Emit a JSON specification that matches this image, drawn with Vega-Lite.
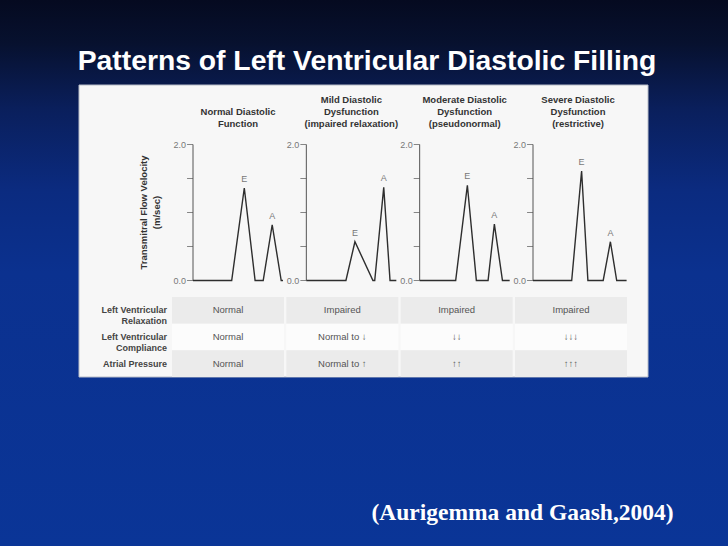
{
  "$schema": "https://vega.github.io/schema/vega-lite/v6.json",
  "width": 728,
  "height": 546,
  "autosize": {"type": "none"},
  "padding": 0,
  "background": "#060c26",
  "title": {
    "text": "Patterns of Left Ventricular Diastolic Filling",
    "orient": "top",
    "anchor": "middle",
    "frame": "group",
    "offset": -98,
    "baseline": "alphabetic",
    "dx": 3,
    "font": "Liberation Sans",
    "fontSize": 28.3,
    "fontWeight": "bold",
    "color": "#ffffff"
  },
  "datasets": {
    "frame": [{"part": "figure"}],
    "panels": [
      {"panel": "Normal"},
      {"panel": "Mild"},
      {"panel": "Moderate"},
      {"panel": "Severe"}
    ],
    "yticks": [
      {"panel": "Normal", "v": 0}, {"panel": "Normal", "v": 0.5}, {"panel": "Normal", "v": 1}, {"panel": "Normal", "v": 1.5}, {"panel": "Normal", "v": 2},
      {"panel": "Mild", "v": 0}, {"panel": "Mild", "v": 0.5}, {"panel": "Mild", "v": 1}, {"panel": "Mild", "v": 1.5}, {"panel": "Mild", "v": 2},
      {"panel": "Moderate", "v": 0}, {"panel": "Moderate", "v": 0.5}, {"panel": "Moderate", "v": 1}, {"panel": "Moderate", "v": 1.5}, {"panel": "Moderate", "v": 2},
      {"panel": "Severe", "v": 0}, {"panel": "Severe", "v": 0.5}, {"panel": "Severe", "v": 1}, {"panel": "Severe", "v": 1.5}, {"panel": "Severe", "v": 2}
    ],
    "flow": [
      {"panel": "Normal", "t": 0, "v": 0, "wave": "", "phase": "rest"},
      {"panel": "Normal", "t": 0.43, "v": 0, "wave": "E", "phase": "onset"},
      {"panel": "Normal", "t": 0.57, "v": 1.36, "wave": "E", "phase": "peak"},
      {"panel": "Normal", "t": 0.69, "v": 0, "wave": "E", "phase": "end"},
      {"panel": "Normal", "t": 0.78, "v": 0, "wave": "A", "phase": "onset"},
      {"panel": "Normal", "t": 0.88, "v": 0.82, "wave": "A", "phase": "peak"},
      {"panel": "Normal", "t": 0.98, "v": 0, "wave": "A", "phase": "end"},
      {"panel": "Normal", "t": 1, "v": 0, "wave": "", "phase": "rest"},
      {"panel": "Mild", "t": 0, "v": 0, "wave": "", "phase": "rest"},
      {"panel": "Mild", "t": 0.44, "v": 0, "wave": "E", "phase": "onset"},
      {"panel": "Mild", "t": 0.54, "v": 0.57, "wave": "E", "phase": "peak"},
      {"panel": "Mild", "t": 0.74, "v": 0, "wave": "E", "phase": "end"},
      {"panel": "Mild", "t": 0.76, "v": 0, "wave": "A", "phase": "onset"},
      {"panel": "Mild", "t": 0.86, "v": 1.37, "wave": "A", "phase": "peak"},
      {"panel": "Mild", "t": 0.93, "v": 0, "wave": "A", "phase": "end"},
      {"panel": "Mild", "t": 1, "v": 0, "wave": "", "phase": "rest"},
      {"panel": "Moderate", "t": 0, "v": 0, "wave": "", "phase": "rest"},
      {"panel": "Moderate", "t": 0.4, "v": 0, "wave": "E", "phase": "onset"},
      {"panel": "Moderate", "t": 0.53, "v": 1.4, "wave": "E", "phase": "peak"},
      {"panel": "Moderate", "t": 0.63, "v": 0, "wave": "E", "phase": "end"},
      {"panel": "Moderate", "t": 0.76, "v": 0, "wave": "A", "phase": "onset"},
      {"panel": "Moderate", "t": 0.83, "v": 0.83, "wave": "A", "phase": "peak"},
      {"panel": "Moderate", "t": 0.92, "v": 0, "wave": "A", "phase": "end"},
      {"panel": "Moderate", "t": 1, "v": 0, "wave": "", "phase": "rest"},
      {"panel": "Severe", "t": 0, "v": 0, "wave": "", "phase": "rest"},
      {"panel": "Severe", "t": 0.43, "v": 0, "wave": "E", "phase": "onset"},
      {"panel": "Severe", "t": 0.54, "v": 1.61, "wave": "E", "phase": "peak"},
      {"panel": "Severe", "t": 0.61, "v": 0, "wave": "E", "phase": "end"},
      {"panel": "Severe", "t": 0.78, "v": 0, "wave": "A", "phase": "onset"},
      {"panel": "Severe", "t": 0.86, "v": 0.57, "wave": "A", "phase": "peak"},
      {"panel": "Severe", "t": 0.93, "v": 0, "wave": "A", "phase": "end"},
      {"panel": "Severe", "t": 1.04, "v": 0, "wave": "", "phase": "rest"}
    ],
    "table": [
      {"row": "Relaxation", "col": "Normal", "text": "Normal"},
      {"row": "Relaxation", "col": "Mild", "text": "Impaired"},
      {"row": "Relaxation", "col": "Moderate", "text": "Impaired"},
      {"row": "Relaxation", "col": "Severe", "text": "Impaired"},
      {"row": "Compliance", "col": "Normal", "text": "Normal"},
      {"row": "Compliance", "col": "Mild", "text": "Normal to ↓"},
      {"row": "Compliance", "col": "Moderate", "text": "↓↓"},
      {"row": "Compliance", "col": "Severe", "text": "↓↓↓"},
      {"row": "Pressure", "col": "Normal", "text": "Normal"},
      {"row": "Pressure", "col": "Mild", "text": "Normal to ↑"},
      {"row": "Pressure", "col": "Moderate", "text": "↑↑"},
      {"row": "Pressure", "col": "Severe", "text": "↑↑↑"}
    ],
    "rowlabels": [
      {"row": "Relaxation", "label": "Left Ventricular\nRelaxation"},
      {"row": "Compliance", "label": "Left Ventricular\nCompliance"},
      {"row": "Pressure", "label": "Atrial Pressure"}
    ]
  },
  "layer": [
    {
      "data": {"name": "frame"},
      "mark": {"type": "rect", "fill": "#f7f7f7", "stroke": "#b8bdc8", "strokeWidth": 1},
      "encoding": {
        "x": {"field": "part", "type": "nominal", "scale": {"type": "band", "range": [79, 648], "paddingInner": 0, "paddingOuter": 0}, "axis": null},
        "y": {"field": "part", "type": "nominal", "scale": {"type": "band", "range": [85, 377], "paddingInner": 0, "paddingOuter": 0}, "axis": null}
      }
    },
    {
      "layer": [
        {
          "data": {"name": "panels"},
          "mark": {"type": "rule", "color": "#555555", "strokeWidth": 1},
          "encoding": {
            "x": {
              "field": "panel", "type": "nominal", "bandPosition": 0,
              "scale": {"type": "band", "domain": ["Normal", "Mild", "Moderate", "Severe"], "range": [193, 623], "paddingInner": 0.2059, "paddingOuter": 0},
              "axis": {
                "orient": "top", "offset": -104, "domain": false, "ticks": false, "grid": false, "zindex": 2,
                "title": null, "labelAngle": 0, "labelPadding": 0, "labelBaseline": "bottom",
                "labelFont": "Liberation Sans", "labelFontSize": 9.5, "labelFontWeight": "bold",
                "labelColor": "#333333", "labelLineHeight": 12,
                "labelExpr": "datum.value == 'Normal' ? ['', 'Normal Diastolic', 'Function'] : datum.value == 'Mild' ? ['Mild Diastolic', 'Dysfunction', '(impaired relaxation)'] : datum.value == 'Moderate' ? ['Moderate Diastolic', 'Dysfunction', '(pseudonormal)'] : ['Severe Diastolic', 'Dysfunction', '(restrictive)']"
              }
            },
            "y": {
              "datum": 0, "type": "quantitative",
              "scale": {"domain": [0, 2], "range": [280.5, 144.5], "nice": false, "zero": false},
              "axis": {
                "orient": "left", "domain": false, "ticks": false, "labels": false, "grid": false, "zindex": 2,
                "title": ["Transmitral Flow Velocity", "(m/sec)"],
                "titleX": 148, "titleY": 212, "titleAngle": 270, "titleBaseline": "bottom", "titleAlign": "center",
                "titleFont": "Liberation Sans", "titleFontSize": 9.5, "titleFontWeight": "bold",
                "titleColor": "#333333", "titleLineHeight": 13
              }
            },
            "y2": {"datum": 2}
          }
        },
        {
          "data": {"name": "yticks"},
          "mark": {"type": "tick", "color": "#555555", "thickness": 1, "size": 6, "orient": "horizontal"},
          "encoding": {
            "x": {"field": "panel", "type": "nominal", "bandPosition": 0},
            "xOffset": {"datum": -0.033, "type": "quantitative", "scale": {"domain": [0, 1]}},
            "y": {"field": "v", "type": "quantitative"}
          }
        },
        {
          "data": {"name": "yticks"},
          "transform": [{"filter": "datum.v == 0 || datum.v == 2"}],
          "mark": {"type": "text", "align": "right", "baseline": "middle", "dx": -7, "font": "Liberation Sans", "fontSize": 9, "color": "#777777"},
          "encoding": {
            "x": {"field": "panel", "type": "nominal", "bandPosition": 0},
            "y": {"field": "v", "type": "quantitative"},
            "text": {"field": "v", "type": "quantitative", "format": ".1f"}
          }
        },
        {
          "data": {"name": "flow"},
          "mark": {"type": "line", "color": "#2e2e2e", "strokeWidth": 1.4, "strokeJoin": "miter"},
          "encoding": {
            "x": {"field": "panel", "type": "nominal", "bandPosition": 0},
            "xOffset": {"field": "t", "type": "quantitative", "scale": {"domain": [0, 1]}},
            "y": {"field": "v", "type": "quantitative"},
            "detail": {"field": "panel"},
            "order": {"field": "t"}
          }
        },
        {
          "data": {"name": "flow"},
          "transform": [{"filter": "datum.phase == 'peak'"}],
          "mark": {"type": "text", "baseline": "bottom", "dy": -4, "font": "Liberation Sans", "fontSize": 9, "color": "#777777"},
          "encoding": {
            "x": {"field": "panel", "type": "nominal", "bandPosition": 0},
            "xOffset": {"field": "t", "type": "quantitative", "scale": {"domain": [0, 1]}},
            "y": {"field": "v", "type": "quantitative"},
            "text": {"field": "wave"}
          }
        }
      ]
    },
    {
      "layer": [
        {
          "data": {"name": "table"},
          "mark": {"type": "rect"},
          "encoding": {
            "x": {
              "field": "col", "type": "nominal",
              "scale": {"type": "band", "domain": ["Normal", "Mild", "Moderate", "Severe"], "range": [172, 627], "paddingInner": 0.02, "paddingOuter": 0},
              "axis": {
                "orient": "bottom", "domain": false, "ticks": false, "labels": false, "grid": false,
                "title": "(Aurigemma and Gaash,2004)",
                "titleX": 522, "titleY": -27, "titleAlign": "center", "titleBaseline": "alphabetic",
                "titleFont": "Liberation Serif", "titleFontSize": 23.5, "titleFontWeight": "bold", "titleColor": "#ffffff"
              }
            },
            "y": {
              "field": "row", "type": "nominal",
              "scale": {"type": "band", "domain": ["Relaxation", "Compliance", "Pressure"], "range": [297, 377], "paddingInner": 0, "paddingOuter": 0},
              "axis": null
            },
            "color": {"condition": {"test": "datum.row == 'Compliance'", "value": "#fcfcfc"}, "value": "#ebebeb"}
          }
        },
        {
          "data": {"name": "table"},
          "mark": {"type": "text", "font": "Liberation Sans", "fontSize": 9.5, "color": "#555555", "baseline": "middle"},
          "encoding": {
            "x": {"field": "col", "type": "nominal"},
            "y": {"field": "row", "type": "nominal"},
            "text": {"field": "text"}
          }
        },
        {
          "data": {"name": "rowlabels"},
          "mark": {"type": "text", "font": "Liberation Sans", "fontSize": 9, "fontWeight": "bold", "color": "#444444", "align": "right", "baseline": "middle", "dx": -5, "lineHeight": 11},
          "encoding": {
            "x": {"datum": "Normal", "type": "nominal", "bandPosition": 0},
            "y": {"field": "row", "type": "nominal"},
            "text": {"field": "label"}
          }
        }
      ]
    }
  ],
  "resolve": {
    "scale": {"x": "independent", "y": "independent", "xOffset": "independent"},
    "axis": {"x": "independent", "y": "independent"}
  },
  "config": {
    "view": {
      "stroke": null,
      "fill": {
        "gradient": "linear",
        "x1": 0, "y1": 0, "x2": 0, "y2": 1,
        "stops": [
          {"offset": 0, "color": "#050a20"},
          {"offset": 0.08, "color": "#07112f"},
          {"offset": 0.2, "color": "#0a1f5c"},
          {"offset": 0.35, "color": "#0b2b80"},
          {"offset": 0.5, "color": "#0b318f"},
          {"offset": 1, "color": "#0a3597"}
        ]
      }
    },
    "text": {"lineBreak": "\n"}
  }
}
